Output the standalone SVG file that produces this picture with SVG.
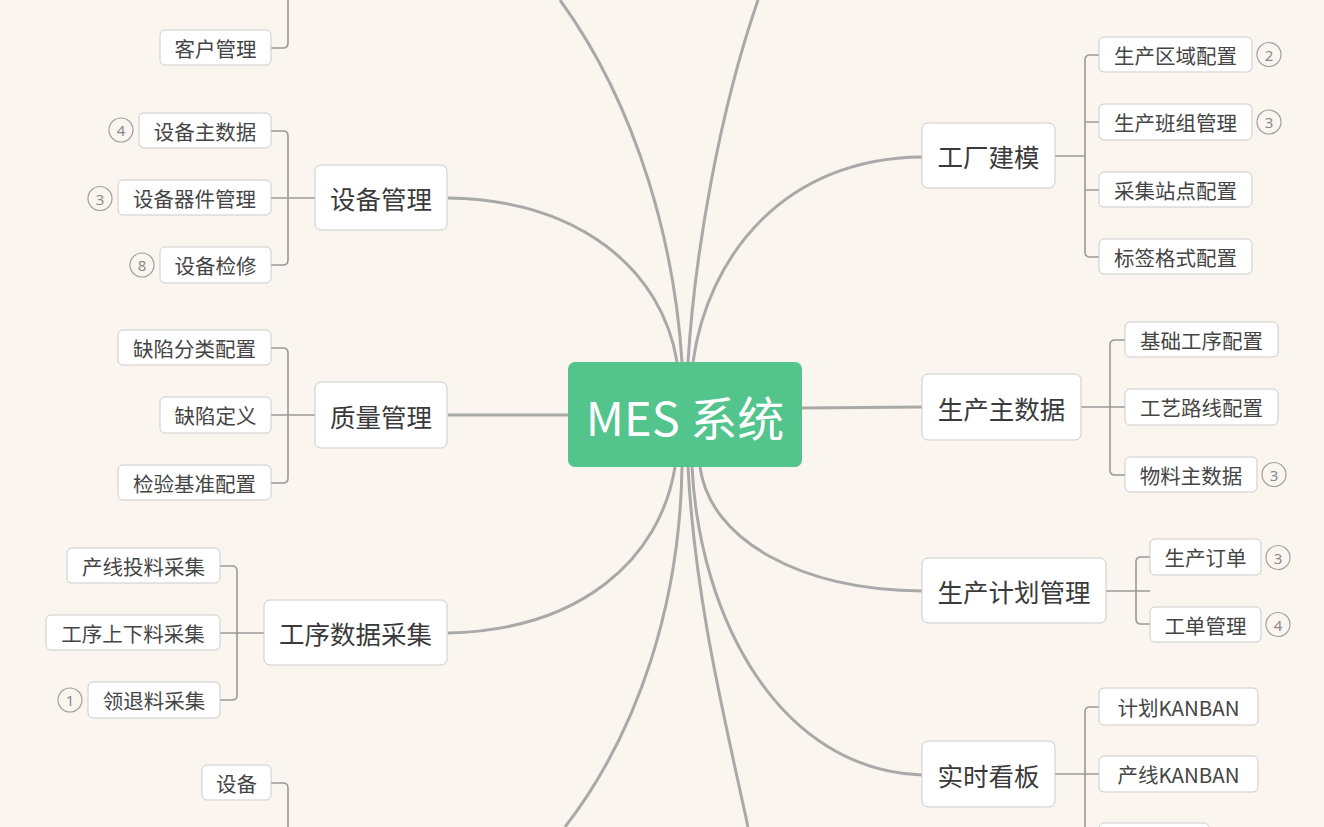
<svg xmlns="http://www.w3.org/2000/svg" width="1324" height="827" viewBox="0 0 1324 827">
<style>
.n rect{fill:#fff;stroke:#cbcbcb;stroke-width:1}
.t1{font-family:"Noto Sans CJK SC","Noto Sans",sans-serif;font-size:25.5px;fill:#3a3a3a;text-anchor:middle;dominant-baseline:central}
.t2{font-family:"Noto Sans CJK SC","Noto Sans",sans-serif;font-size:20.5px;fill:#454545;text-anchor:middle;dominant-baseline:central}
.main{fill:none;stroke:#a9a9a9;stroke-width:3}
.br{fill:none;stroke:#999;stroke-width:1.6}
.bd circle{fill:none;stroke:#a0a0a0;stroke-width:1.2}
.bd text{font-family:"Noto Sans","DejaVu Sans",sans-serif;font-size:15px;fill:#8a8a8a;text-anchor:middle;dominant-baseline:central}
</style>
<rect width="1324" height="827" fill="#fbf5f0"/>
<g id="connectors">
<path class="main" d="M560,0 C640,110 675,250 682,362"/>
<path class="main" d="M758,0 C720,110 695,250 688,362"/>
<path class="main" d="M448,198 C580,200 662,270 677,362"/>
<path class="main" d="M922,157 C785,158 708,255 693,362"/>
<path class="main" d="M448,415 L568,415"/>
<path class="main" d="M802,408 L922,407"/>
<path class="main" d="M675,467 C660,560 580,630 448,633"/>
<path class="main" d="M682,467 C680,600 640,730 565,827"/>
<path class="main" d="M688,467 C695,600 725,720 748,827"/>
<path class="main" d="M692,467 C700,620 780,770 922,775"/>
<path class="main" d="M700,467 C710,540 800,590 922,591"/>
<path class="br" d="M271,48 H283 Q288,48 288,43 V0"/>
<path class="br" d="M271,131 H283 Q288,131 288,136 V260 Q288,265 283,265 H271 M271,198 H315"/>
<path class="br" d="M271,348 H283 Q288,348 288,353 V478 Q288,483 283,483 H271 M271,415 H315"/>
<path class="br" d="M220,566 H232 Q237,566 237,571 V695 Q237,700 232,700 H220 M220,633 H264"/>
<path class="br" d="M271,783 H283 Q288,783 288,788 V827"/>
<path class="br" d="M1099,55 H1090 Q1085,55 1085,60 V252 Q1085,257 1090,257 H1099 M1085,122 H1099 M1085,190 H1099 M1055,156 H1085"/>
<path class="br" d="M1125,340 H1115 Q1110,340 1110,345 V470 Q1110,475 1115,475 H1125 M1081,407 H1125"/>
<path class="br" d="M1150,557 H1141 Q1136,557 1136,562 V619 Q1136,624 1141,624 H1150 M1106,591 H1150"/>
<path class="br" d="M1099,707 H1090 Q1085,707 1085,712 V827 M1055,774 H1099"/>
</g>
<g id="root"><rect x="568" y="362" width="234" height="105" rx="7" fill="#52c48c"/><text x="685" y="415" font-family="'Noto Sans CJK SC','Noto Sans',sans-serif" font-size="47" fill="#fff" text-anchor="middle" dominant-baseline="central">MES 系统</text></g>
<g id="n-shebei" class="n"><rect x="315" y="165" width="132" height="65" rx="6"/><text class="t1" x="381" y="197.5">设备管理</text></g>
<g id="n-zhiliang" class="n"><rect x="315" y="382" width="132" height="66" rx="6"/><text class="t1" x="381" y="415">质量管理</text></g>
<g id="n-gongxu" class="n"><rect x="264" y="600" width="183" height="65" rx="6"/><text class="t1" x="355.5" y="632.5">工序数据采集</text></g>
<g id="n-gongchang" class="n"><rect x="922" y="123" width="133" height="65" rx="6"/><text class="t1" x="988.5" y="155.5">工厂建模</text></g>
<g id="n-zhushuju" class="n"><rect x="922" y="374" width="159" height="66" rx="6"/><text class="t1" x="1001.5" y="407">生产主数据</text></g>
<g id="n-jihua" class="n"><rect x="922" y="558" width="184" height="65" rx="6"/><text class="t1" x="1014" y="590.5">生产计划管理</text></g>
<g id="n-kanban" class="n"><rect x="922" y="741" width="133" height="66" rx="6"/><text class="t1" x="988.5" y="774">实时看板</text></g>
<g id="n-kehu" class="n"><rect x="160" y="30" width="111" height="35" rx="5"/><text class="t2" x="215.5" y="47.5">客户管理</text></g>
<g id="n-sbzsj" class="n"><rect x="139" y="113" width="132" height="35" rx="5"/><text class="t2" x="205" y="130.5">设备主数据</text><g class="bd"><circle cx="121" cy="130" r="12"/><text x="121" y="130">4</text></g></g>
<g id="n-sbqj" class="n"><rect x="118" y="180" width="153" height="35" rx="5"/><text class="t2" x="194.5" y="197.5">设备器件管理</text><g class="bd"><circle cx="100" cy="198.5" r="12"/><text x="100" y="198.5">3</text></g></g>
<g id="n-sbjx" class="n"><rect x="160" y="247" width="111" height="36" rx="5"/><text class="t2" x="215.5" y="265">设备检修</text><g class="bd"><circle cx="142" cy="265" r="12"/><text x="142" y="265">8</text></g></g>
<g id="n-qxfl" class="n"><rect x="118" y="330" width="153" height="35" rx="5"/><text class="t2" x="194.5" y="347.5">缺陷分类配置</text></g>
<g id="n-qxdy" class="n"><rect x="160" y="397" width="111" height="36" rx="5"/><text class="t2" x="215.5" y="415">缺陷定义</text></g>
<g id="n-jyjz" class="n"><rect x="118" y="465" width="153" height="35" rx="5"/><text class="t2" x="194.5" y="482.5">检验基准配置</text></g>
<g id="n-cxtl" class="n"><rect x="67" y="548" width="153" height="35" rx="5"/><text class="t2" x="143.5" y="565.5">产线投料采集</text></g>
<g id="n-gxsx" class="n"><rect x="46" y="615" width="174" height="35" rx="5"/><text class="t2" x="133" y="632.5">工序上下料采集</text></g>
<g id="n-ltl" class="n"><rect x="88" y="682" width="132" height="36" rx="5"/><text class="t2" x="154" y="700">领退料采集</text><g class="bd"><circle cx="70" cy="700" r="12"/><text x="70" y="700">1</text></g></g>
<g id="n-sb" class="n"><rect x="202" y="765" width="69" height="35" rx="5"/><text class="t2" x="236.5" y="782.5">设备</text></g>
<g id="n-scqy" class="n"><rect x="1099" y="37" width="153" height="35" rx="5"/><text class="t2" x="1175.5" y="54.5">生产区域配置</text><g class="bd"><circle cx="1269" cy="54.5" r="12"/><text x="1269" y="54.5">2</text></g></g>
<g id="n-scbz" class="n"><rect x="1099" y="104" width="153" height="36" rx="5"/><text class="t2" x="1175.5" y="122">生产班组管理</text><g class="bd"><circle cx="1269" cy="122" r="12"/><text x="1269" y="122">3</text></g></g>
<g id="n-cjzd" class="n"><rect x="1099" y="172" width="153" height="35" rx="5"/><text class="t2" x="1175.5" y="189.5">采集站点配置</text></g>
<g id="n-bqgs" class="n"><rect x="1099" y="239" width="153" height="35" rx="5"/><text class="t2" x="1175.5" y="256.5">标签格式配置</text></g>
<g id="n-jcgx" class="n"><rect x="1125" y="322" width="153" height="35" rx="5"/><text class="t2" x="1201.5" y="339.5">基础工序配置</text></g>
<g id="n-gylx" class="n"><rect x="1125" y="389" width="153" height="36" rx="5"/><text class="t2" x="1201.5" y="407">工艺路线配置</text></g>
<g id="n-wlzsj" class="n"><rect x="1125" y="457" width="132" height="35" rx="5"/><text class="t2" x="1191" y="474.5">物料主数据</text><g class="bd"><circle cx="1274" cy="474.5" r="12"/><text x="1274" y="474.5">3</text></g></g>
<g id="n-scdd" class="n"><rect x="1150" y="539" width="111" height="36" rx="5"/><text class="t2" x="1205.5" y="557">生产订单</text><g class="bd"><circle cx="1278" cy="557.5" r="12"/><text x="1278" y="557.5">3</text></g></g>
<g id="n-gdgl" class="n"><rect x="1150" y="607" width="111" height="35" rx="5"/><text class="t2" x="1205.5" y="624.5">工单管理</text><g class="bd"><circle cx="1278" cy="624.5" r="12"/><text x="1278" y="624.5">4</text></g></g>
<g id="n-jhkb" class="n"><rect x="1099" y="688" width="159" height="37" rx="5"/><text class="t2" x="1178.5" y="706.5">计划KANBAN</text></g>
<g id="n-cxkb" class="n"><rect x="1099" y="756" width="159" height="36" rx="5"/><text class="t2" x="1178.5" y="774">产线KANBAN</text></g>
<g id="n-partial" class="n"><rect x="1099" y="823" width="110" height="36" rx="5"/></g>
</svg>
